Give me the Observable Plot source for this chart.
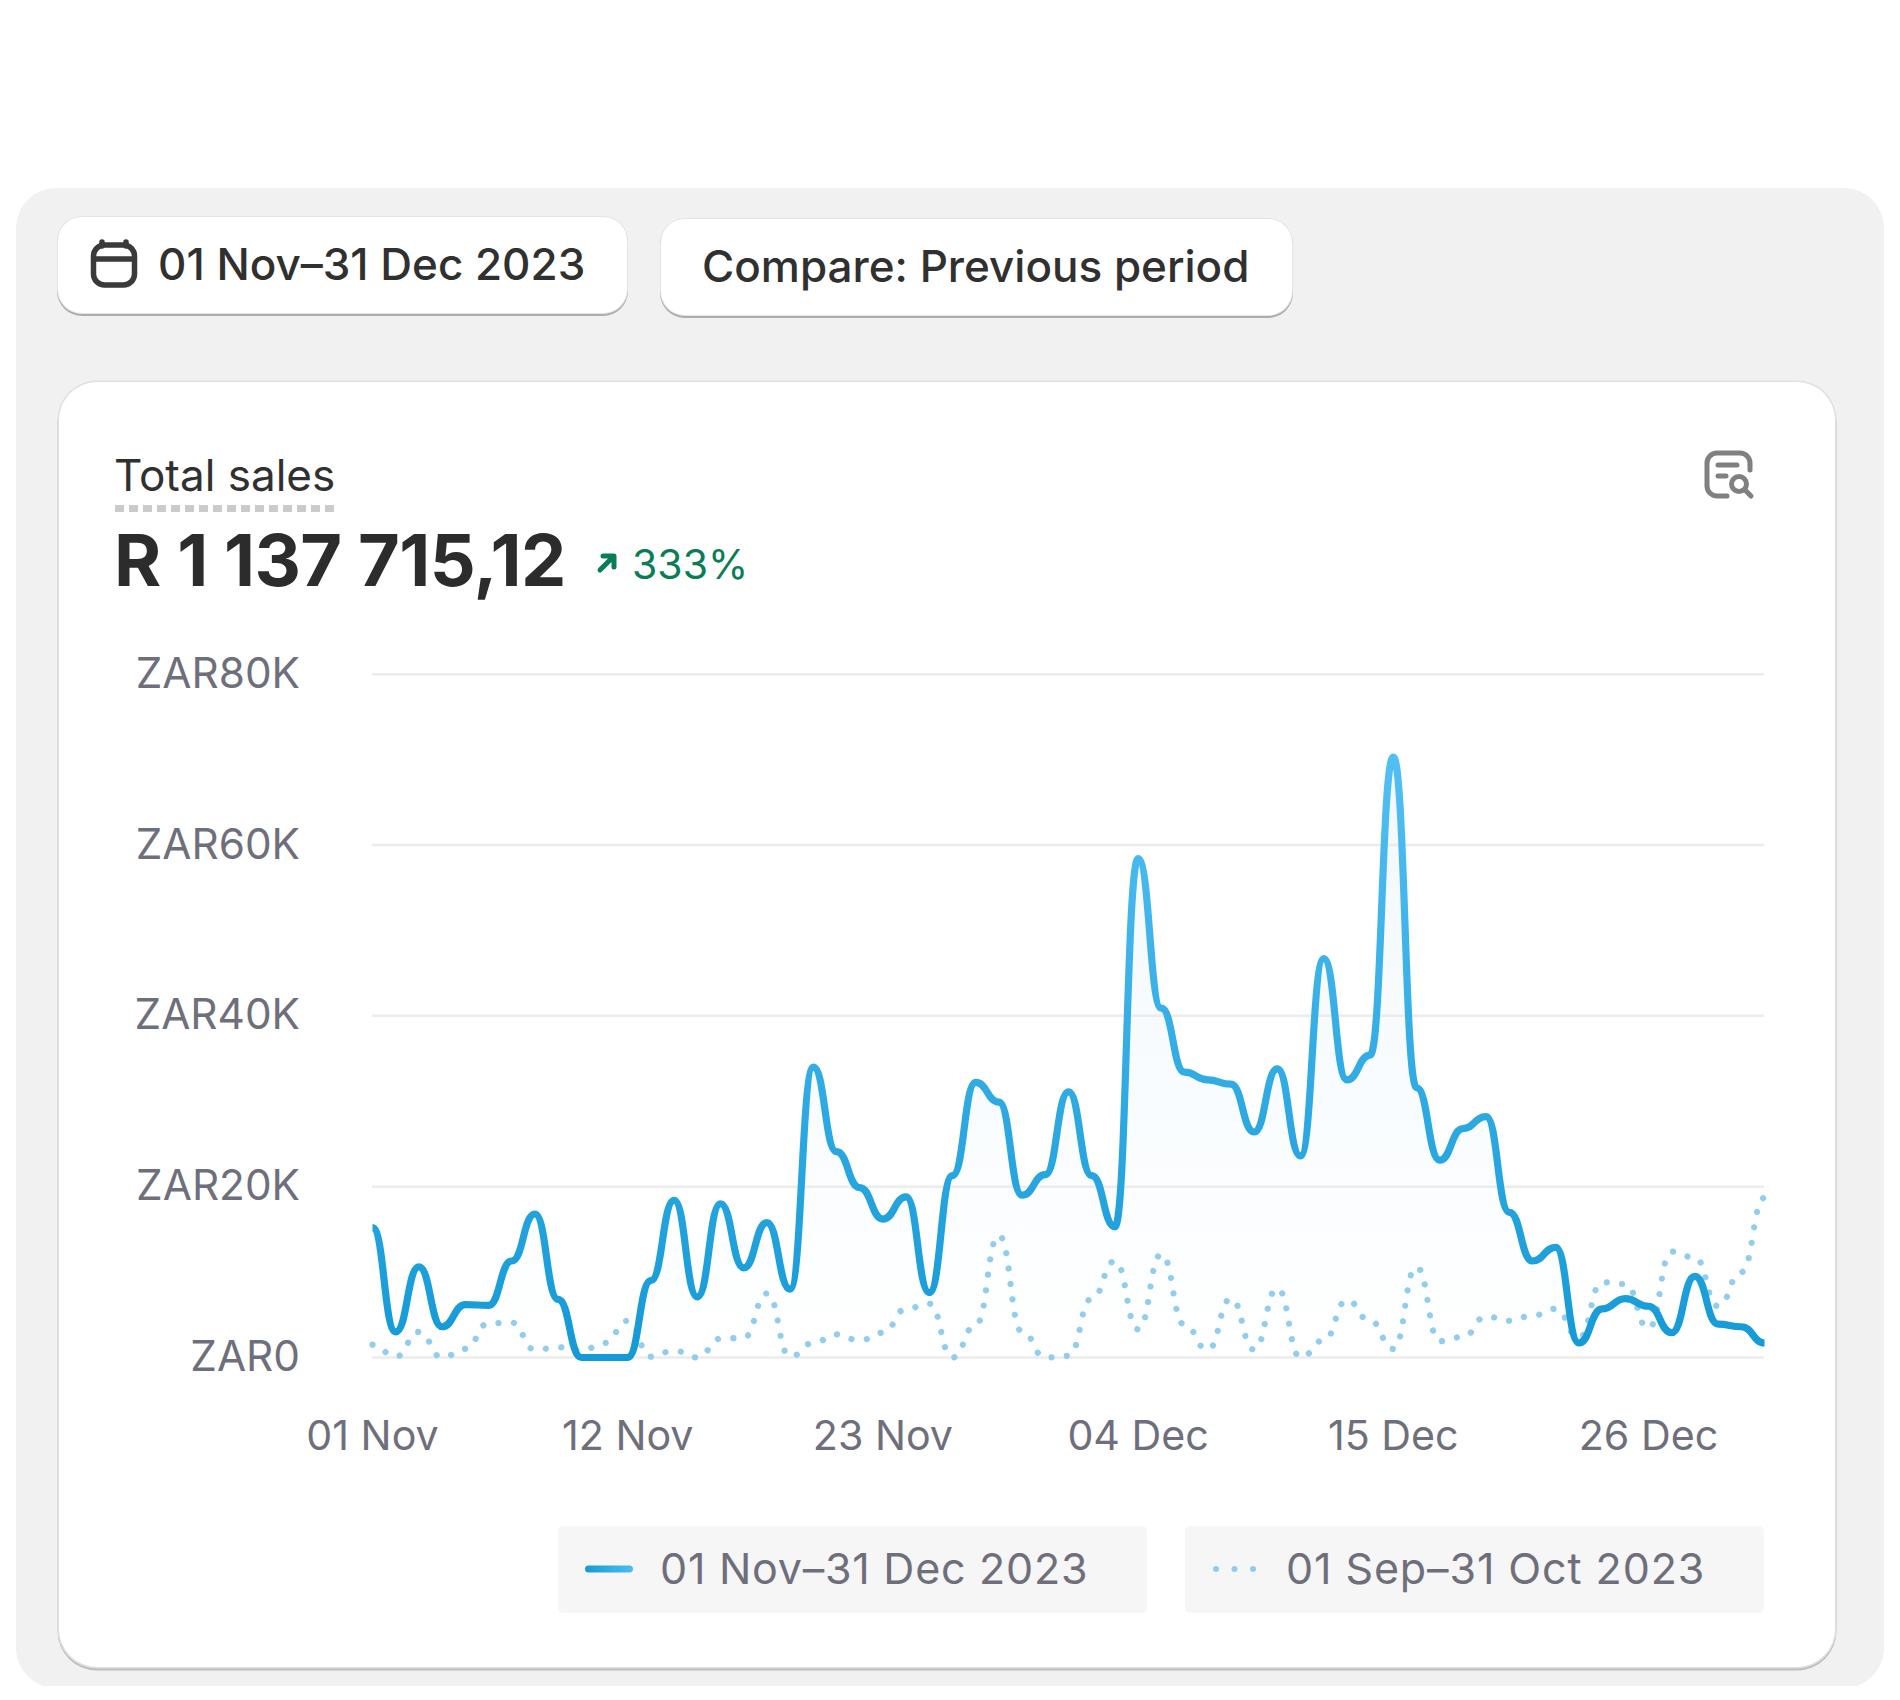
<!DOCTYPE html>
<html><head><meta charset="utf-8">
<script src="https://cdn.jsdelivr.net/npm/d3@7"></script>
<script src="https://cdn.jsdelivr.net/npm/@observablehq/plot@0.6"></script>
<style>
html,body{margin:0;padding:0;background:#fff;font-family:Inter,sans-serif;}
#page{position:relative;width:1900px;height:1700px;overflow:hidden;}
#clip{position:absolute;left:0;top:0;width:1900px;height:1686px;overflow:hidden;}
#panel{position:absolute;left:16px;top:188px;width:1868px;height:1500px;background:#f1f1f1;border-radius:40px;}
.btn{position:absolute;background:#fff;border-radius:24px;box-shadow:0 0 0 1px #e4e4e4,0 2px 0 1px #adadad;}
#card{position:absolute;left:59px;top:382px;width:1776px;height:1285px;background:#fff;border-radius:38px;box-shadow:0 0 0 1.5px #e0e0e0,0 2px 0 1.5px #bdbdbd;}
.t{position:absolute;white-space:nowrap;line-height:1;}
.lg{position:absolute;background:#f6f6f6;border-radius:5px;top:1526px;height:87px;}
#chart{position:absolute;left:0;top:600px;}
#chart svg{overflow:visible;background:transparent;}
</style></head>
<body><div id="page">
<div id="clip"><div id="panel"></div></div>
<div class="btn" style="left:58px;top:217px;width:569px;height:96px"></div>
<div class="btn" style="left:661px;top:219px;width:631px;height:96px"></div>
<svg style="position:absolute;left:88px;top:238px" width="52" height="52" viewBox="0 0 52 52" fill="none" stroke="#3a3a3a" stroke-width="5.5" stroke-linecap="round"><path d="M14 8V4M38 8V4"/><rect x="5.5" y="7" width="41" height="40" rx="11"/><path d="M6 21H46"/></svg>
<div class="t" id="b1" style="left:158px;top:242px;font-size:44px;font-weight:500;color:#303030">01 Nov–31 Dec 2023</div>
<div class="t" id="b2" style="left:702px;top:244px;font-size:44px;font-weight:500;color:#303030">Compare: Previous period</div>
<div id="card"></div>
<div class="t" style="left:114px;top:453px;font-size:44px;color:#303030">Total sales</div>
<div style="position:absolute;left:115px;top:505px;width:222px;height:7px;background:repeating-linear-gradient(90deg,#cbcbcb 0 9px,transparent 9px 14px)"></div>
<div class="t" style="left:114px;top:524px;font-size:72px;font-weight:700;color:#2c2c2c;letter-spacing:-.6px">R 1 137 715,12</div>
<svg style="position:absolute;left:595px;top:551px" width="24" height="24" viewBox="0 0 24 24" fill="none" stroke="#0a7d56" stroke-width="5" stroke-linecap="round" stroke-linejoin="round"><path d="M5 19L17 7M8 5H19V16"/></svg>
<div class="t" style="left:632px;top:544px;font-size:41px;color:#0a7d56">333%</div>
<svg style="position:absolute;left:1703px;top:449px" width="54" height="54" viewBox="0 0 54 54" fill="none" stroke="#808080" stroke-width="5" stroke-linecap="round"><path d="M24 47H14a10 10 0 0 1-10-10V14A10 10 0 0 1 14 4H37a10 10 0 0 1 10 10V21"/><path d="M15 16H34M15 27H23"/><circle cx="36" cy="35" r="7.5"/><path d="M42 41L48 47"/></svg>
<div id="chart"></div>
<div class="lg" style="left:558px;width:589px"></div>
<div class="lg" style="left:1185px;width:579px"></div>
<svg style="position:absolute;left:580px;top:1560px" width="60" height="18"><defs><linearGradient id="sw" x1="0" x2="1" y1="0" y2="0"><stop offset="0" stop-color="#149ad6"/><stop offset="1" stop-color="#4dbdf2"/></linearGradient></defs><rect x="5" y="5.5" width="48" height="7" rx="3.5" fill="url(#sw)"/></svg>
<div class="t lgt" style="left:660px;top:1547px;font-size:43px;color:#6f6f7c;letter-spacing:.75px">01 Nov–31 Dec 2023</div>
<svg style="position:absolute;left:1208px;top:1560px" width="60" height="18"><path d="M8 9H52" stroke="#8fcdf0" stroke-width="6" stroke-linecap="round" stroke-dasharray="0.01 18.5"/></svg>
<div class="t lgt" style="left:1286px;top:1547px;font-size:43px;color:#6f6f7c;letter-spacing:.9px">01 Sep–31 Oct 2023</div>
</div>
<script>
const startDate = "2023-11-01";
const currentValues = [15.2,3.0,10.6,3.6,6.2,6.1,11.3,16.8,6.8,0,0,0,9.0,18.4,7.1,18.0,10.5,15.8,8.0,34.0,24.1,19.9,16.2,18.8,7.6,21.3,32.2,29.9,19.0,21.4,31.1,21.3,15.3,58.4,40.9,33.4,32.5,32.0,26.4,33.8,23.6,46.7,32.5,35.4,70.3,31.6,23.1,26.8,28.2,17.0,11.3,12.9,1.7,5.7,6.9,6.0,2.9,9.5,3.9,3.6,1.7];
const previousValues = [1.5,0.1,3.0,0,1.0,4.0,4.1,0.9,1.2,0.8,1.7,4.3,0.1,0.8,0,2.2,2.3,7.5,0.1,1.7,2.7,2.0,2.9,5.7,6.3,0,3.8,14.3,3.0,0,0.2,6.9,11.3,3.3,12.1,3.8,0.9,6.9,0.9,8.1,0,2.0,6.7,4.3,1.0,10.6,1.9,2.4,4.8,4.3,4.9,5.7,2.3,8.8,8.6,3.4,12.4,11.7,6.0,10.0,18.7];
const yTickValues = [0,20,40,60,80];
const xTickDays = [0,11,22,33,44,55];

const day0 = new Date(startDate + "T00:00:00Z");
const dateOf = i => d3.utcDay.offset(day0, i);
const current = currentValues.map((v,i)=>({date:dateOf(i),value:v}));
const previous = previousValues.map((v,i)=>({date:dateOf(i),value:v}));

const gradients = () => {
  const defs = d3.create("svg:defs");
  const l = defs.append("linearGradient").attr("id","lineGrad").attr("x1",0).attr("x2",0).attr("y1",0).attr("y2",1);
  l.append("stop").attr("offset","0%").attr("stop-color","#52bff3");
  l.append("stop").attr("offset","100%").attr("stop-color","#149ad6");
  const a = defs.append("linearGradient").attr("id","areaGrad").attr("x1",0).attr("x2",0).attr("y1",0).attr("y2",1);
  a.append("stop").attr("offset","0%").attr("stop-color","#f1f8fd");
  a.append("stop").attr("offset","100%").attr("stop-color","#ffffff");
  return defs.node();
};

const plot = Plot.plot({
  width:1900, height:900,
  marginLeft:372, marginRight:136, marginTop:73.7, marginBottom:143,
  style:{background:"transparent",fontFamily:"Inter, sans-serif"},
  x:{type:"utc",domain:[dateOf(0),dateOf(60)]},
  y:{domain:[0,80]},
  marks:[
    gradients,
    Plot.areaY(current,{x:"date",y:"value",curve:"bump-x",fill:"url(#areaGrad)"}),
    Plot.ruleY(yTickValues,{stroke:"#ececec",strokeWidth:2.5}),
    Plot.line(previous,{x:"date",y:"value",curve:"bump-x",stroke:"#92cdee",strokeWidth:6.2,strokeDasharray:"0.01 15.5",strokeLinecap:"round"}),
    Plot.line(current,{x:"date",y:"value",curve:"bump-x",stroke:"url(#lineGrad)",strokeWidth:7.2,strokeLinejoin:"round",strokeLinecap:"butt"}),
    Plot.axisY({ticks:yTickValues,tickSize:0,tickPadding:72.5,label:null,fontSize:42.3,fill:"#6f6f7c",fontVariant:"normal",tickFormat:d=>`ZAR${d===0?"0":d+"K"}`}),
    Plot.axisX({ticks:xTickDays.map(dateOf),tickSize:0,tickPadding:63,label:null,fontSize:41.2,fill:"#6f6f7c",fontVariant:"normal",tickFormat:d3.utcFormat("%d %b")})
  ]
});
document.getElementById("chart").appendChild(plot);
</script>
</body></html>
